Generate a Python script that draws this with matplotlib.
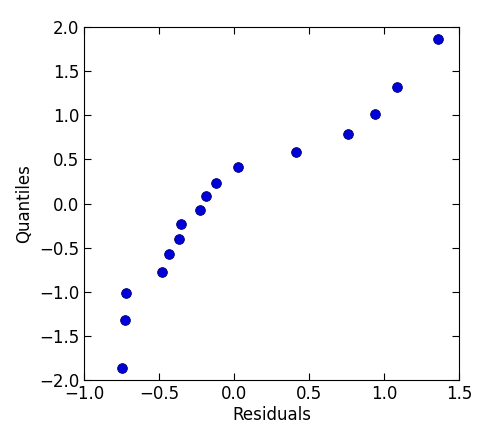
import matplotlib
matplotlib.use("Agg")
import matplotlib.pyplot as plt

residuals = [1.36, 1.087, 0.94, 0.76, 0.413, 0.027, -0.12, -0.187, -0.227, -0.353, -0.367, -0.433, -0.48, -0.72, -0.727, -0.747]
quantiles = [1.87, 1.32, 1.01, 0.79, 0.58, 0.41, 0.23, 0.085, -0.07, -0.23, -0.40, -0.57, -0.78, -1.01, -1.32, -1.86]

fig = plt.figure(figsize=(5, 4.44), dpi=100)
ax = fig.add_axes([0.168, 0.144, 0.75, 0.795])
ax.plot(residuals, quantiles, 'o', color='#0000dd', markeredgecolor='#000066', markersize=7, markeredgewidth=0.6)
ax.set_xlim(-1.0, 1.5)
ax.set_ylim(-2.0, 2.0)
ax.set_xticks([-1.0, -0.5, 0.0, 0.5, 1.0, 1.5])
ax.set_yticks([-2.0, -1.5, -1.0, -0.5, 0.0, 0.5, 1.0, 1.5, 2.0])
ax.tick_params(direction='in', labelsize=12, length=5, top=True, right=True)
ax.set_xlabel('Residuals', fontsize=12, labelpad=2)
ax.set_ylabel('Quantiles', fontsize=12)
fig.savefig('out.png')
